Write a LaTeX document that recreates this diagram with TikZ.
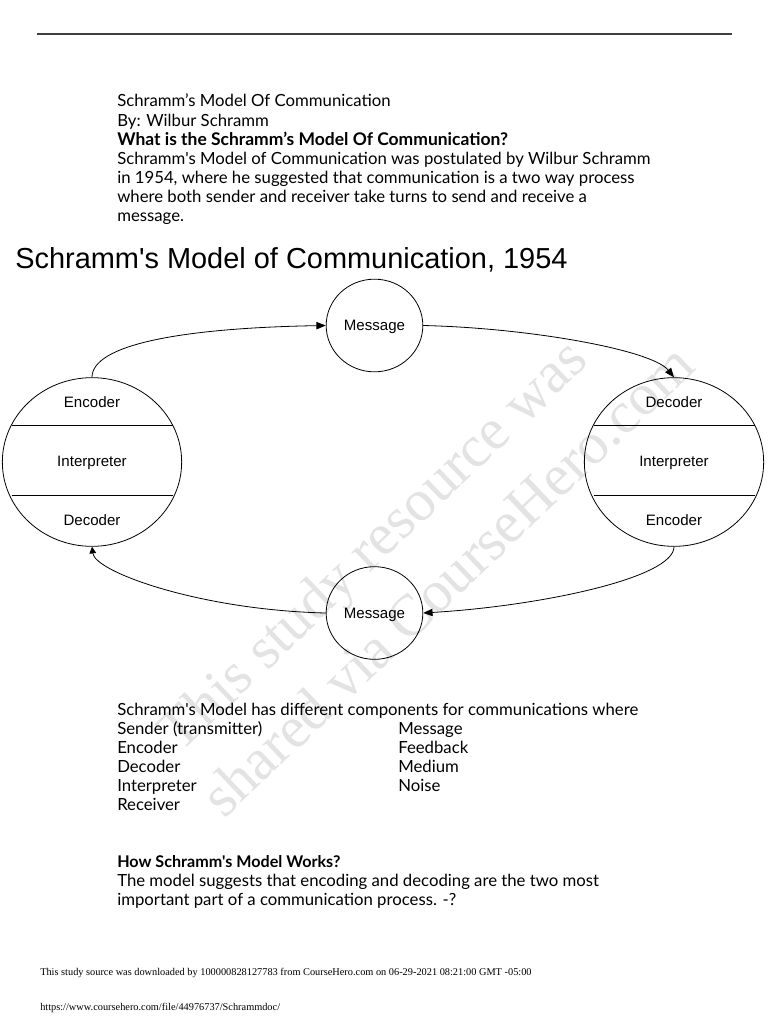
\documentclass[tikz,border=0pt]{standalone}
\usepackage{fontspec}
\setmainfont{Lato}[Ligatures=TeXOff]
\newfontfamily\arialf{Liberation Sans}
\newfontfamily\timesf{Liberation Serif}
\usetikzlibrary{shapes.geometric,arrows.meta,calc}
\begin{document}
\begin{tikzpicture}[x=0.75pt,y=-0.75pt,
  body/.style={anchor=base west,inner sep=0pt,font=\fontsize{12.55}{14.25}\selectfont},
  bodyb/.style={body,font=\fontsize{12.55}{14.25}\selectfont\bfseries},
  lbl/.style={anchor=base,inner sep=0pt,font=\arialf\fontsize{11.3}{13}\selectfont},
  bigc/.style={draw,ellipse,inner sep=0pt,minimum width=134.5pt,minimum height=126.5pt,line width=0.6pt},
  msgc/.style={draw,ellipse,inner sep=0pt,minimum width=72.5pt,minimum height=69.5pt,line width=0.6pt},
  conn/.style={line width=0.6pt,-{Triangle[length=7pt,width=5.5pt]}},
  chord/.style={line width=0.6pt},
  wmark/.style={rotate=43.6,inner sep=0pt,text=black!11,font=\timesf\fontsize{44}{50}\selectfont},
  foot/.style={anchor=base west,inner sep=0pt,font=\timesf\fontsize{7.75}{8}\selectfont}]
\useasboundingbox (0,0) rectangle (768,1024);
\fill[white] (0,0) rectangle (768,1024);
% watermark
\node[wmark] (wm1) at (376,548) {This study resource was};
\node[wmark] (wm2) at (447,580) {shared via CourseHero.com};
% top rule
\coordinate (r1) at (37,34);
\coordinate (r2) at (732,34);
\draw[line width=1.2pt,black!75] (r1) -- (r2);
% intro text
\node[body] (t1) at (117,107) {Schramm’s Model Of Communication};
\node[body] (t2) at (117,126) {By: Wilbur Schramm};
\node[bodyb,font=\fontsize{13.1}{14.25}\selectfont\bfseries] (t3) at (117,145) {What is the Schramm’s Model Of Communication?};
\node[body] (t4) at (117,164) {Schramm's Model of Communication was postulated by Wilbur Schramm};
\node[body] (t5) at (117,183) {in 1954, where he suggested that communication is a two way process};
\node[body] (t6) at (117,202) {where both sender and receiver take turns to send and receive a};
\node[body] (t7) at (117,221) {message.};
% title
\node[anchor=base west,inner sep=0pt,font=\arialf\fontsize{21.7}{24}\selectfont] (title) at (15,268) {Schramm's Model of Communication, 1954};
% diagram
\node[bigc] (L) at (92,462) {};
\node[bigc] (R) at (674,462) {};
\node[msgc] (M1) at (374.5,325.5) {};
\node[msgc] (M2) at (374.5,613) {};
\draw[chord] ($(L.center)+(-80.5,-37)$) -- ($(L.center)+(80.5,-37)$);
\draw[chord] ($(L.center)+(-80.5,33)$) -- ($(L.center)+(80.5,33)$);
\draw[chord] ($(R.center)+(-80.5,-37)$) -- ($(R.center)+(80.5,-37)$);
\draw[chord] ($(R.center)+(-80.5,33)$) -- ($(R.center)+(80.5,33)$);
\node[lbl] (le) at (92,407) {Encoder};
\node[lbl] (li) at (92,466) {Interpreter};
\node[lbl] (ld) at (92,525) {Decoder};
\node[lbl] (rd) at (674,407) {Decoder};
\node[lbl] (ri) at (674,466) {Interpreter};
\node[lbl] (re) at (674,525) {Encoder};
\node[lbl] (m1t) at (374.5,330) {Message};
\node[lbl] (m2t) at (374.5,618) {Message};
\draw[conn] (L.north) .. controls (92,345) and (180,328) .. (M1.west);
\draw[conn] (M1.east) .. controls (530,328) and (652,350) .. (R.north);
\draw[conn] (R.south) .. controls (674,578) and (540,606) .. (M2.east);
\draw[line width=0.6pt,-{Triangle[length=5pt,width=5pt]}] (M2.west) .. controls (200,610) and (95,572) .. (L.south);
% components text
\node[body] (c0) at (117,715) {Schramm's Model has different components for communications where};
\node[body] (c1) at (117,734) {Sender (transmitter)};
\node[body] (c2) at (117,753) {Encoder};
\node[body] (c3) at (117,772) {Decoder};
\node[body] (c4) at (117,791) {Interpreter};
\node[body] (c5) at (117,810) {Receiver};
\node[body] (d1) at (398,734) {Message};
\node[body] (d2) at (398,753) {Feedback};
\node[body] (d3) at (398,772) {Medium};
\node[body] (d4) at (398,791) {Noise};
\node[bodyb,font=\fontsize{12.1}{14.25}\selectfont\bfseries] (h2) at (117,867) {How Schramm's Model Works?};
\node[body] (p1) at (117,886) {The model suggests that encoding and decoding are the two most};
\node[body] (p2) at (117,905) {important part of a communication process. -?};
% footer
\node[foot] (f1) at (40,975) {This study source was downloaded by 100000828127783 from CourseHero.com on 06-29-2021 08:21:00 GMT -05:00};
\node[foot] (f2) at (40,1010) {https://www.coursehero.com/file/44976737/Schrammdoc/};
\end{tikzpicture}
\end{document}
